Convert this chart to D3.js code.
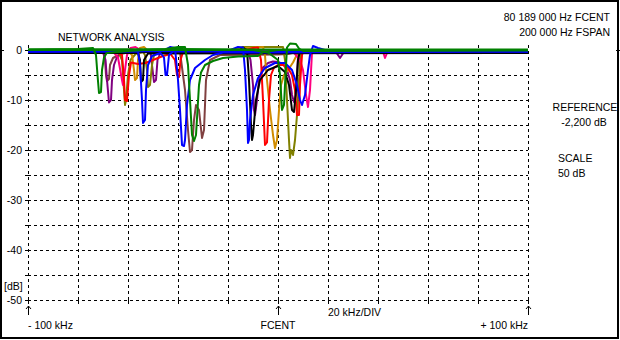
<!DOCTYPE html>
<html>
<head>
<meta charset="utf-8">
<script src="https://cdn.jsdelivr.net/npm/d3@7"></script>
<style>
  body { margin: 0; background: #fff; }
  svg text { font-family: "Liberation Sans", Arial, sans-serif; font-size: 10.5px; fill: #000; }
</style>
</head>
<body>
<svg id="chart"></svg>
<script>
// traces: [kHz offset from FCENT, dB]
const greenA = [[-100,0.1],[-80,0.2],[-74,0.4],[-72.8,-1],[-72.2,-5],[-71.6,-8.6],[-70.8,-8.4],[-70.4,-4],[-69.6,-1.5],[-68.5,-0.6],[-60,-0.2],[-50,0.1],[-40,0.2],[0,0.1],[100,0.1]];
const greenB = [[-100,0.1],[-45,0.2],[-40,0.6],[-37.2,0.6],[-36,-3],[-35.2,-10],[-34.4,-17],[-33.6,-18.2],[-32.8,-17],[-32.2,-12],[-31.6,-7],[-30.8,-4.5],[-29.2,-3],[-26,-2.2],[-22,-1.6],[-16,-1.3],[-8,-1.2],[-6,-0.4],[0,0],[100,0]];
const greenC = [[-100,0],[-10,0],[-4,-0.5],[0,-2],[0.8,-5],[1.6,-12],[2.4,-11],[3,-5],[3.6,0.5],[4.8,1.3],[7.2,1.2],[8.4,0.3],[10,-0.2],[100,-0.1]];
const purpleA = [[-100,-0.3],[-70,-0.3],[-69,-2],[-68.4,-6],[-67.6,-10.5],[-66.8,-10],[-66.4,-6],[-65.6,-3],[-64.4,-1.4],[-62,-0.4],[-51,-0.4],[-50.4,-3],[-49.6,-6.4],[-48.8,-6],[-48.2,-2],[-47,-0.5],[100,-0.3]];
const purpleB = [[-100,-0.3],[-12,-0.3],[-11,-2],[-10,-7],[-9.6,-12],[-9.2,-13],[-8.4,-10],[-7.6,-6],[-6,-3.5],[-4,-2.6],[-2,-2.3],[0,-2.4],[2,-2.8],[3.6,-4],[4.8,-6],[5.6,-9],[6.4,-10.4],[7.2,-9],[7.6,-5],[8,-1.5],[8.8,-0.4],[10,-0.2],[23,-0.3],[24,-1],[24.8,-1.6],[25.6,-1],[26.5,-0.3],[100,-0.3]];
const redA = [[-100,-0.3],[-65,-0.3],[-62.4,-1],[-61.6,-6],[-61.2,-10],[-60.4,-10.2],[-59.6,-5],[-58.8,-2.5],[-56,-2.8],[-53,-2.6],[-50,-2],[-46,-1.2],[-43,-0.8],[-41.2,-2],[-40.4,-5],[-39.6,-5.4],[-39,-2],[-38,-0.4],[100,-0.3]];
const redB = [[-100,-0.3],[-14,-0.2],[-10,0.4],[-8,0.5],[-6.8,-2],[-6,-10],[-5.2,-19],[-4.4,-18.5],[-3.6,-10],[-2.8,-5],[-1.6,-3.5],[0,-3],[2,-3],[4,-3.6],[5.6,-5],[6.8,-8],[7.6,-13],[8.4,-13],[8.8,-7],[9.6,-1],[10.4,0],[12,-0.2],[100,-0.3]];
const blueA = [[-100,-0.3],[-56,-0.3],[-55.2,-3],[-54.4,-10],[-54,-14.6],[-53.2,-14],[-52.8,-8],[-52,-3],[-50.4,-1.2],[-47,-0.6],[-45.6,-1.5],[-45,-5],[-44.4,-5],[-43.6,-1],[-42,-0.3],[100,-0.3]];
const blueB = [[-100,-0.3],[-46,-0.2],[-43.2,0.6],[-41.2,0.4],[-40,-6],[-39.2,-12],[-38.4,-19],[-37.6,-19.2],[-37.2,-18],[-36.4,-11],[-35.2,-6],[-33.2,-3.6],[-31.2,-2.8],[-29.2,-2],[-26,-1],[-22,-0.5],[100,-0.3]];
const blueC = [[-100,-0.3],[-20,-0.2],[-16,0.6],[-14,0.5],[-13.2,-4],[-12.4,-12],[-12,-18.6],[-11.6,-18],[-11.2,-14],[-10,-9],[-8,-5.6],[-5.2,-3.6],[-1.2,-2.6],[2.8,-2.6],[5.6,-4],[7.6,-7],[8.8,-10],[9.6,-11],[10.8,-9],[12,-4],[12.8,-1],[14,0.8],[16,0.4],[18.8,0],[100,-0.3]];
const blackA = [[-100,-0.6],[-56,-0.6],[-55.2,-2],[-54.8,-6.4],[-54,-6],[-53.6,-2],[-52,-0.7],[100,-0.6]];
const blackB = [[-100,-0.6],[-16,-0.3],[-14,0.5],[-12.4,0],[-11.6,-6],[-10.8,-15],[-10.4,-18],[-10,-17],[-8.8,-10],[-7.2,-6],[-4,-4],[0,-3.2],[2.8,-4.4],[4.4,-7],[5.6,-12],[6.4,-12.4],[7.2,-8],[8,-2],[8.8,-0.2],[10,-0.6],[100,-0.6]];
const goldA = [[-100,-0.3],[-60,-0.3],[-58.4,-1],[-57.6,-4],[-57.2,-6],[-56.4,-5.6],[-56,-2],[-55.2,0.4],[-53.6,0.6],[-52,-0.2],[100,-0.3]];
const goldB = [[-100,-0.3],[-20,-0.3],[-16,0.3],[-6,0.6],[-5.2,-1],[-4.8,-4],[-3.2,-12],[-2,-17],[-1.2,-19.6],[-0.4,-18],[0.4,-12],[1.2,-7],[2.4,-5],[4,-4],[6,-2.5],[8,-0.5],[10,0],[100,-0.3]];
const oliveA = [[-100,-0.2],[-64,-0.2],[-62.4,-2],[-61.6,-8],[-61.2,-11],[-60.8,-10],[-60,-5],[-59,-2],[-57,-0.8],[-54,-0.4],[-53.2,-1],[-52.4,-4],[-52,-7.4],[-51.2,-7],[-50.4,-3],[-49.6,-1],[-48,-0.3],[100,-0.3]];
const oliveB = [[-100,-0.2],[-20,-0.2],[-14,0.6],[2,0.6],[2.8,-2],[3.6,-10],[4.4,-18],[4.8,-21.6],[5.2,-20],[6,-21],[6.8,-18],[7.6,-13],[8.4,-6],[8.8,-2],[9.6,0],[12,-0.2],[100,-0.3]];
const brownA = [[-100,-0.2],[-70,-0.2],[-69.2,-2],[-68.8,-5],[-68.4,-6.2],[-67.6,-5.8],[-67.2,-3],[-66,-1.6],[-63,-0.8],[-58,-0.3],[100,-0.3]];
const brownB = [[-100,-0.3],[-42,-0.3],[-39.2,-0.4],[-37.2,-8],[-36,-16],[-35.2,-20.4],[-34.4,-20],[-33.6,-14],[-32.8,-11],[-31.6,-12],[-30.4,-17.6],[-29.6,-16],[-28.8,-6],[-27.2,-2],[-23.2,-1],[0,-0.9],[4,-0.8],[8,-0.3],[100,-0.3]];
const pinkA = [[-100,-0.3],[-66,-0.3],[-64,-1.5],[-62.4,-6],[-62,-7],[-61.2,-4],[-60.4,-1],[-59,0.4],[-57,0.6],[-55,0],[-53,-0.3],[100,-0.3]];
const pinkB = [[-100,-0.3],[6,-0.3],[8.8,-2],[10,-4],[11.2,-9],[12,-11.4],[12.8,-8],[13.6,-0.5],[15,0],[20,-0.3],[42,-0.3],[42.8,-1.6],[43.6,-0.6],[45,-0.3],[100,-0.3]];

// drawing order, last on top
const traces = [
  { data: brownA, color: "#804040" }, { data: brownB, color: "#804040" },
  { data: purpleA, color: "#800080" }, { data: purpleB, color: "#800080" },
  { data: oliveA, color: "#808000" }, { data: oliveB, color: "#808000" },
  { data: goldA, color: "#d08c00" }, { data: goldB, color: "#d08c00" },
  { data: pinkA, color: "#ff0080" }, { data: pinkB, color: "#ff0080" },
  { data: redA, color: "#ff0000" }, { data: redB, color: "#ff0000" },
  { data: blackA, color: "#000000" }, { data: blackB, color: "#000000" },
  { data: blueA, color: "#0000ff" }, { data: blueB, color: "#0000ff" }, { data: blueC, color: "#0000ff" },
  { data: greenA, color: "#008000" }, { data: greenB, color: "#008000" }, { data: greenC, color: "#008000" }
];

const yLabels = [0, -10, -20, -30, -40, -50];
const yGrid = [0, -5, -10, -15, -20, -25, -30, -35, -40, -45, -50];
const xGrid = [-100, -80, -60, -40, -20, 0, 20, 40, 60, 80, 100];
const arrowMarks = [-100, 0, 100];

const width = 620;
const height = 340;
const marginLeft = 28;
const plotRight = 528;
const plotTop = 50;
const plotBottom = 300;

const svg = d3.select("#chart")
    .attr("width", width)
    .attr("height", height);

const xScale = d3.scaleLinear().domain([-100, 100]).range([marginLeft, plotRight]);
const yScale = d3.scaleLinear().domain([-50, 0]).range([plotBottom, plotTop]);

// frame
svg.append("rect")
    .attr("x", 1).attr("y", 1)
    .attr("width", 617).attr("height", 337)
    .attr("fill", "none").attr("stroke", "#000").attr("stroke-width", 2);

// grid
const grid = svg.append("g").attr("stroke", "#000").attr("stroke-width", 1);
grid.selectAll(".hg").data(yGrid).enter().append("line")
    .attr("x1", marginLeft).attr("x2", plotRight)
    .attr("y1", d => Math.round(yScale(d)) + 0.5).attr("y2", d => Math.round(yScale(d)) + 0.5)
    .attr("stroke-dasharray", "3,3");
grid.selectAll(".ht").data(yGrid).enter().append("line")
    .attr("x1", marginLeft - 3).attr("x2", marginLeft)
    .attr("y1", d => Math.round(yScale(d)) + 0.5).attr("y2", d => Math.round(yScale(d)) + 0.5);
grid.selectAll(".vg").data(xGrid).enter().append("line")
    .attr("x1", d => Math.round(xScale(d)) + 0.5).attr("x2", d => Math.round(xScale(d)) + 0.5)
    .attr("y1", 45).attr("y2", plotBottom + 1)
    .attr("stroke-dasharray", "3,3");
grid.selectAll(".vt").data(xGrid).enter().append("line")
    .attr("x1", d => Math.round(xScale(d)) + 0.5).attr("x2", d => Math.round(xScale(d)) + 0.5)
    .attr("y1", plotBottom).attr("y2", plotBottom + 4);

// reference markers on frame
svg.append("line").attr("x1", 0).attr("x2", 4).attr("y1", 50.5).attr("y2", 50.5).attr("stroke", "#000");
svg.append("line").attr("x1", 616).attr("x2", 620).attr("y1", 50.5).attr("y2", 50.5).attr("stroke", "#000");

// arrows under the axis
svg.selectAll(".arrow").data(arrowMarks).enter().append("path")
    .attr("d", d => {
        const x = Math.round(xScale(d)) + 0.5;
        return `M${x},315 V306 M${x - 2.5},309 L${x},306 L${x + 2.5},309`;
    })
    .attr("fill", "none").attr("stroke", "#000").attr("stroke-width", 1);

// traces
const line = d3.line()
    .x(d => xScale(d[0]))
    .y(d => yScale(d[1]));

svg.append("g").selectAll("path")
    .data(traces)
    .enter()
    .append("path")
    .attr("d", d => line(d.data))
    .attr("fill", "none")
    .attr("stroke", d => d.color)
    .attr("stroke-width", 2)
    .attr("stroke-linejoin", "round");

// y labels
svg.selectAll(".ylab").data(yLabels).enter().append("text")
    .attr("x", 22).attr("y", d => yScale(d) + 4)
    .attr("text-anchor", "end")
    .text(d => d);

svg.append("text").attr("x", 4).attr("y", 290).text("[dB]");
svg.append("text").attr("x", 58).attr("y", 41).text("NETWORK ANALYSIS");
svg.append("text").attr("x", 610).attr("y", 21).attr("text-anchor", "end").text("80 189 000 Hz FCENT");
svg.append("text").attr("x", 610).attr("y", 36).attr("text-anchor", "end").text("200 000 Hz FSPAN");
svg.append("text").attr("x", 585).attr("y", 111).attr("text-anchor", "middle").text("REFERENCE");
svg.append("text").attr("x", 584).attr("y", 126).attr("text-anchor", "middle").text("-2,200 dB");
svg.append("text").attr("x", 558).attr("y", 162).text("SCALE");
svg.append("text").attr("x", 558).attr("y", 177).text("50 dB");
svg.append("text").attr("x", 28).attr("y", 329).text("- 100 kHz");
svg.append("text").attr("x", 278).attr("y", 329).attr("text-anchor", "middle").text("FCENT");
svg.append("text").attr("x", 328).attr("y", 316).text("20 kHz/DIV");
svg.append("text").attr("x", 528).attr("y", 329).attr("text-anchor", "end").text("+ 100 kHz");
</script>
</body>
</html>
